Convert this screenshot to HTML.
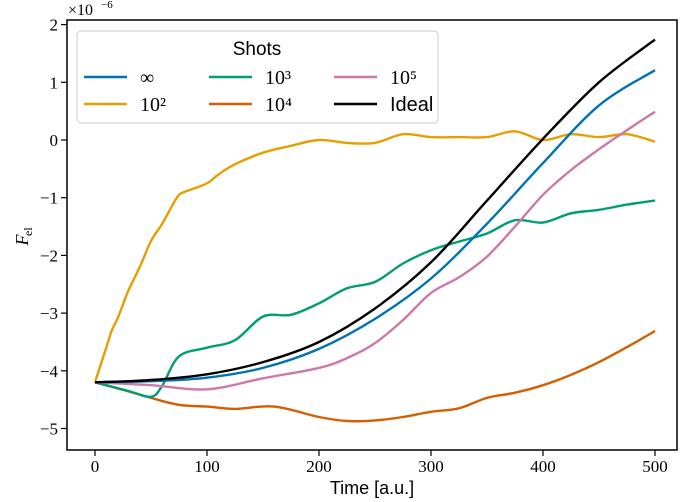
<!DOCTYPE html>
<html><head><meta charset="utf-8"><style>
body{margin:0;background:#fff}
svg{display:block;font-family:"Liberation Serif",serif}
</style></head><body>
<svg id="c" width="685" height="502" xmlns="http://www.w3.org/2000/svg"></svg>
<script>
const xTicks=[0,100,200,300,400,500];
const yTicks=[2,1,0,-1,-2,-3,-4,-5];
const tInf=[0,50,100,150,200,250,300,350,400,450,500];
const vInf=[-4.2,-4.18,-4.12,-3.95,-3.62,-3.1,-2.4,-1.45,-0.4,0.6,1.21];
const tIdeal=[0,50,100,150,200,250,300,350,400,450,500];
const vIdeal=[-4.2,-4.16,-4.06,-3.85,-3.5,-2.92,-2.12,-1.05,0.02,1.0,1.74];
const t1e5=[0,50,100,150,200,225,250,275,300,325,350,375,400,425,450,475,500];
const v1e5=[-4.2,-4.25,-4.32,-4.13,-3.95,-3.78,-3.52,-3.12,-2.65,-2.38,-2.02,-1.5,-0.95,-0.52,-0.16,0.17,0.49];
const t1e3=[0,30,50,60,75,100,125,150,175,200,225,250,275,300,325,350,375,400,425,450,475,500];
const v1e3=[-4.2,-4.35,-4.45,-4.26,-3.75,-3.6,-3.47,-3.06,-3.03,-2.83,-2.57,-2.46,-2.14,-1.91,-1.76,-1.62,-1.39,-1.43,-1.27,-1.21,-1.12,-1.05];
const t1e4=[0,25,50,75,100,125,160,200,225,250,275,300,325,350,375,400,425,450,475,500];
const v1e4=[-4.2,-4.33,-4.47,-4.59,-4.62,-4.66,-4.62,-4.8,-4.87,-4.86,-4.8,-4.71,-4.65,-4.47,-4.38,-4.25,-4.07,-3.85,-3.59,-3.31];
const t1e2=[0,5,10,15,20,25,30,40,50,60,70,75,80,100,110,125,150,175,200,225,250,275,300,325,350,375,400,425,450,475,500];
const v1e2=[-4.2,-3.9,-3.6,-3.3,-3.1,-2.85,-2.6,-2.2,-1.75,-1.45,-1.1,-0.95,-0.9,-0.75,-0.6,-0.42,-0.22,-0.1,0.0,-0.05,-0.05,0.1,0.05,0.05,0.05,0.15,0.0,0.1,0.05,0.1,-0.03];

const svg=document.getElementById('c');const NS='http://www.w3.org/2000/svg';
const X=t=>95+t*1.12;
const Y=v=>140-v*57.7;
function mk(tag,attrs,txt){const e=document.createElementNS(NS,tag);for(const k in attrs)e.setAttribute(k,attrs[k]);if(txt!==undefined)e.textContent=txt;svg.appendChild(e);return e;}
function smooth(ts,vs){
 const p=ts.map((t,i)=>[X(t),Y(vs[i])]);
 let d='M'+p[0][0].toFixed(1)+','+p[0][1].toFixed(1);
 for(let i=0;i<p.length-1;i++){
  const p0=p[i-1]||p[i],p1=p[i],p2=p[i+1],p3=p[i+2]||p[i+1];
  const c1=[p1[0]+(p2[0]-p0[0])/6,p1[1]+(p2[1]-p0[1])/6];
  const c2=[p2[0]-(p3[0]-p1[0])/6,p2[1]-(p3[1]-p1[1])/6];
  d+='C'+c1.map(v=>v.toFixed(1)).join(',')+' '+c2.map(v=>v.toFixed(1)).join(',')+' '+p2[0].toFixed(1)+','+p2[1].toFixed(1);
 }
 return d;
}
const L=67,R=677,T=20,B=450;
xTicks.forEach(t=>{
 const l=mk('line',{x1:X(t),x2:X(t),y1:B,y2:B+6,stroke:'#000','stroke-width':1.2});
 
 
 const tx=mk('text',{x:X(t),y:B+22,'text-anchor':'middle','font-size':17},t);
 
 
});
yTicks.forEach(v=>{
 const l=mk('line',{x1:L-6,x2:L,y1:Y(v),y2:Y(v),stroke:'#000','stroke-width':1.2});
 
 
 const tx=mk('text',{x:L-9,y:Y(v)+6,'text-anchor':'end','font-size':17},v<0?'\u2212'+(-v):v);
 
 
});
const series=[[t1e2,v1e2,'#e69f00','series-1e2'],[t1e4,v1e4,'#d55e00','series-1e4'],[t1e3,v1e3,'#009e73','series-1e3'],[t1e5,v1e5,'#cc79a7','series-1e5'],[tInf,vInf,'#0072b2','series-inf'],[tIdeal,vIdeal,'#000','series-ideal']];
series.forEach(s=>{
 const p=mk('path',{d:smooth(s[0],s[1]),fill:'none',stroke:s[2],'stroke-width':2.4,'stroke-linejoin':'round'});
 
 
});
const fr=mk('rect',{x:L,y:T,width:R-L,height:B-T,fill:'none',stroke:'#000','stroke-width':1.5});


const lg=mk('rect',{x:77,y:31,width:361,height:92,rx:4,fill:'#fff','fill-opacity':0.85,stroke:'#ccc','stroke-width':1});


const lt=mk('text',{x:257,y:55,'text-anchor':'middle','font-size':19,'font-family':'Liberation Sans, sans-serif'},'Shots');


const ent=[['#0072b2','\u221e',84,77],['#009e73','10³',209,77],['#cc79a7','10⁵',334,77],['#e69f00','10²',84,104],['#d55e00','10⁴',209,104],['#000','Ideal',334,104]];
ent.forEach(e=>{
 const l=mk('line',{x1:e[2],x2:e[2]+43,y1:e[3],y2:e[3],stroke:e[0],'stroke-width':2.4});
 
 
 const tx=mk('text',{x:e[2]+56,y:e[3]+7,'font-size':20,'font-family':e[1]=='Ideal'?'Liberation Sans, sans-serif':'Liberation Serif, serif'},e[1]);
 
 
});
const sc=mk('text',{x:68,y:15,'font-size':16},'×10');


const sc2=mk('text',{x:101,y:8,'font-size':11},'\u22126');


const xl=mk('text',{x:372,y:494,'text-anchor':'middle','font-size':18,'font-family':'Liberation Sans, sans-serif'},'Time [a.u.]');


const yl=mk('text',{x:0,y:0,'text-anchor':'middle','font-size':18,'font-style':'italic',transform:'translate(28,240) rotate(-90)'},'F');


const ys=mk('text',{x:0,y:0,'font-size':12,transform:'translate(32,236) rotate(-90)'},'el');


</script>
</body></html>
